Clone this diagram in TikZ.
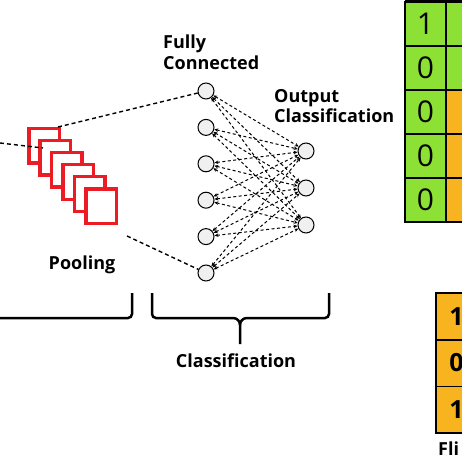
\documentclass[tikz,border=0pt]{standalone}
\usepackage{fontspec}
\setmainfont{Open Sans}
\usetikzlibrary{arrows.meta}

\definecolor{poolred}{HTML}{EC1C24}
\definecolor{cellgreen}{HTML}{8DE134}
\definecolor{cellorange}{HTML}{F8B41E}

\tikzset{
    neuron/.style={circle, draw, line width=1pt, fill=gray!12, minimum size=16pt, inner sep=0pt},
    poolmap/.style={draw=poolred, fill=white, line width=3.5pt, minimum width=30.5pt, minimum height=34.5pt, inner sep=0pt},
    heading/.style={font=\bfseries\fontsize{18}{20.5}\selectfont, align=left, inner sep=0pt},
    feed/.style={dash pattern=on 4pt off 3pt, line width=1.4pt},
    link/.style={dash pattern=on 3pt off 2.5pt, line width=1pt, {Stealth[length=4pt,width=3.5pt]}-{Stealth[length=4pt,width=3.5pt]}},
    bracket/.style={line width=2.5pt},
    cell/.style={draw, line width=1.8pt},
    digit/.style={font=\fontsize{30}{30}\selectfont, inner sep=0pt}
}

\begin{document}
\begin{tikzpicture}[x=1pt, y=-1pt, node distance=36.4pt]
    \useasboundingbox (0,0) rectangle (462,462);
    \clip (0,0) rectangle (462,462);

    % pooling maps
    \foreach \i in {0,...,5}
        \node (p\i) [poolmap] at (44+11.4*\i, 146+12*\i) {};
    \node (pool) [heading, anchor=base] at (82,269) {Pooling};

    % fully connected layer
    \node (f1) [neuron] at (206,91) {};
    \node (f2) [neuron, below of=f1] {};
    \node (f3) [neuron, below of=f2] {};
    \node (f4) [neuron, below of=f3] {};
    \node (f5) [neuron, below of=f4] {};
    \node (f6) [neuron, below of=f5] {};
    \node (fc) [heading, anchor=north west] at (163,35) {Fully\\Connected};

    % output layer
    \node (o1) [neuron] at (306,151) {};
    \node (o2) [neuron] at (306,188) {};
    \node (o3) [neuron] at (306,225) {};
    \node (out) [heading, anchor=north west] at (274,89) {Output\\Classification};

    \coordinate (in) at (0,143);
    \coordinate (inend) at (43,148);
    \coordinate (ptop) at (58,127);
    \coordinate (pbot) at (127,236);
    \draw[feed] (in) -- (inend);
    \draw[feed] (ptop) -- (f1);
    \draw[feed] (pbot) -- (f6);

    \foreach \i in {1,...,6}
        \foreach \j in {1,2,3}
            \path[link] (f\i) edge (o\j);

    % brackets
    \draw[bracket] (0,318) [rounded corners=4pt] -- (132,318) -- (132,293);
    \draw[bracket] (152,293) [rounded corners=4pt] -- (152,318) [sharp corners] -- (233,318) to[out=0,in=90] (240,325) -- (240,344);
    \draw[bracket] (329,293) [rounded corners=4pt] -- (329,318) [sharp corners] -- (247,318) to[out=180,in=90] (240,325);
    \node (cls) [heading, anchor=base] at (236,367) {Classification};

    % one-hot table
    \draw[line width=3pt] (405,0) -- (487,0);
    \foreach \r/\v/\c in {0/1/cellgreen, 1/0/cellgreen, 2/0/cellorange, 3/0/cellorange, 4/0/cellorange} {
        \draw[cell, fill=cellgreen] (405,2+44*\r) rectangle (446,46+44*\r);
        \draw[cell, fill=\c] (446,2+44*\r) rectangle (487,46+44*\r);
        \node (t\r) [digit] at (425.5,24+44*\r) {\v};
    }

    % flipped table
    \foreach \r/\v in {0/1, 1/0, 2/1} {
        \draw[cell, fill=cellorange] (436,293+46.7*\r) rectangle (477,339.7+46.7*\r);
        \node (b\r) [digit, font=\bfseries\fontsize{25}{25}\selectfont] at (456.5,316.3+46.7*\r) {\v};
    }
    \node (flip) [heading, anchor=base west] at (438,455) {Fli};
\end{tikzpicture}
\end{document}
